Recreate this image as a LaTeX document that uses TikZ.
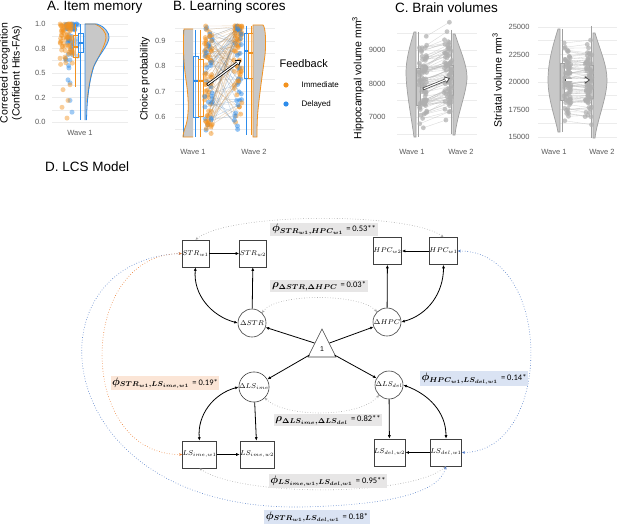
\documentclass[tikz,border=0pt]{standalone}
\usepackage{fontspec}
\setmainfont{Liberation Sans}
\newfontfamily\calibfont{Carlito}
\usetikzlibrary{arrows.meta}
\definecolor{ora}{RGB}{243,146,30}
\definecolor{blu}{RGB}{45,140,235}
\definecolor{gridc}{RGB}{236,236,236}
\definecolor{tickc}{RGB}{90,90,90}
\definecolor{vio}{RGB}{200,200,200}
\definecolor{viol}{RGB}{160,160,160}
\definecolor{dotg}{RGB}{175,175,175}
\definecolor{peach}{RGB}{251,229,214}
\definecolor{lblue}{RGB}{218,227,243}
\definecolor{lgray}{RGB}{231,230,230}
\definecolor{dora}{RGB}{237,125,49}
\definecolor{dblu}{RGB}{68,114,196}
\definecolor{dgray}{RGB}{165,165,165}
\tikzset{
 sq/.style={draw=black!75, line width=0.6pt, fill=white, minimum width=27pt, minimum height=27pt, inner sep=0pt, font=\fontsize{7.5}{8}\selectfont},
 lat/.style={circle, draw=black!75, line width=0.6pt, fill=white, minimum size=28pt, inner sep=0pt, font=\fontsize{7}{8}\selectfont},
 par/.style={-{Latex[length=3.5pt,width=3pt]}, line width=0.8pt, black},
 cov/.style={{Latex[length=3.5pt,width=3pt]}-{Latex[length=3.5pt,width=3pt]}, line width=0.8pt, black},
 dcov/.style={dotted, line width=0.6pt, {Stealth[length=3pt,width=2.6pt]}-{Stealth[length=3pt,width=2.6pt]}},
 estlab/.style={inner sep=1.6pt, font=\fontsize{10.5}{12}\selectfont\mathversion{bold}},
 tickl/.style={font=\fontsize{7.5}{8}\selectfont, text=tickc},
 ttl/.style={font=\fontsize{13.5}{15}\selectfont, anchor=west, inner sep=0pt},
 ylab/.style={font=\fontsize{10.5}{12}\selectfont, rotate=90, align=center, inner sep=0pt},
 gridl/.style={gridc, line width=0.5pt},
 wave/.style={font=\fontsize{7.5}{8}\selectfont, text=tickc},
}
\begin{document}
\begin{tikzpicture}[x=1pt,y=-1pt]
\fill[white] (0,0) rectangle (617,524);
\useasboundingbox (0,0) rectangle (617,524);

% ================= Panel A =================
\node[ttl] (titA) at (47,7.5) {A. Item memory};
\foreach \yy in {24,36.25,48.5,60.75,73,85.25,97.5,109.75,122}{\draw[gridl] (52,\yy) -- (128,\yy);}
\node[tickl, anchor=east] (a1) at (49,24) {1.0};
\node[tickl, anchor=east] (a2) at (49,48.5) {0.8};
\node[tickl, anchor=east] (a3) at (49,73) {0.5};
\node[tickl, anchor=east] (a4) at (49,97.5) {0.2};
\node[tickl, anchor=east] (a5) at (49,122) {0.0};
\node[ylab] (ylA) at (11,73) {Corrected recognition\\(Confident Hits-FAs)};
\node[wave] (wA) at (80,133) {Wave 1};
% dots
\pgfmathsetseed{11}
\foreach \i in {1,...,55}{
  \pgfmathsetmacro{\r}{rnd}
  \pgfmathsetmacro{\v}{1-0.48*\r*\r}
  \pgfmathsetmacro{\xx}{65+14*rnd}
  \fill[blu, opacity=0.45] (\xx,{122-98*\v}) circle (2.5pt);
}
\foreach \xx/\v in {68/0.43,70/0.40,70/0.22,72/0.10}{\fill[blu, opacity=0.45] (\xx,{122-98*\v}) circle (2.5pt);}
\foreach \i in {1,...,70}{
  \pgfmathsetmacro{\r}{rnd}
  \pgfmathsetmacro{\v}{1-0.42*\r*\r}
  \pgfmathsetmacro{\xx}{60+13*rnd}
  \fill[ora, opacity=0.45] (\xx,{122-98*\v}) circle (2.5pt);
}
\foreach \xx/\v in {63/0.33,68/0.22,62/0.15,67/0.04,70/0.38}{\fill[ora, opacity=0.45] (\xx,{122-98*\v}) circle (2.5pt);}
% violin
\fill[vio] (85,24) -- (97,24) .. controls (104,26) and (110,33) .. (109,38) .. controls (108,46) and (98,56) .. (94,66) .. controls (90,78) and (87,95) .. (86.5,120) -- (85,120) -- cycle;
\draw[ora, line width=0.8pt] (85,24) -- (95,24) .. controls (101,26) and (107,33) .. (106,38) .. controls (105,46) and (98,58) .. (93,68) .. controls (90,78) and (88,92) .. (87,102);
\draw[blu, line width=0.8pt] (85,120) -- (85,24) -- (97,24) .. controls (104,26) and (110,33) .. (109,38) .. controls (108,46) and (98,56) .. (94,66) .. controls (90,78) and (87,95) .. (86.5,120);
% boxes
\draw[ora, line width=0.8pt] (75.5,24) -- (75.5,87);
\draw[ora, line width=0.8pt, fill=white, fill opacity=0.3] (73,35) rectangle (78,57);
\draw[ora, line width=1.2pt] (73,47) -- (78,47);
\draw[blu, line width=0.8pt] (80.5,24) -- (80.5,120);
\draw[blu, line width=0.8pt, fill=white, fill opacity=0.3] (78,33) rectangle (83,52);
\draw[blu, line width=1.2pt] (78,43) -- (83,43);

% ================= Panel B =================
\node[ttl] (titB) at (173,7.5) {B. Learning scores};
\foreach \yy in {28.3,41,53.7,66.3,79,91.7,104.3,117,129.7}{\draw[gridl] (175,\yy) -- (275,\yy);}
\node[tickl, anchor=east] (b1) at (169,41) {0.9};
\node[tickl, anchor=east] (b2) at (169,66.3) {0.8};
\node[tickl, anchor=east] (b3) at (169,91.7) {0.7};
\node[tickl, anchor=east] (b4) at (169,117) {0.6};
\node[ylab] (ylB) at (145,79) {Choice probability};
\node[wave] (wB1) at (193,152) {Wave 1};
\node[wave] (wB2) at (254,152) {Wave 2};
% left violin
\fill[vio] (193,29) -- (184,29) .. controls (183,40) and (183,60) .. (186,80) .. controls (189,100) and (189,115) .. (186,125) .. controls (184,130) and (183,135) .. (183,137) -- (193,137) -- cycle;
\draw[blu, line width=0.8pt] (183,30) -- (183,137);
\draw[ora, line width=0.8pt] (193,137) -- (183,137) .. controls (183,135) and (184,130) .. (186,125) .. controls (189,115) and (189,100) .. (186,80) .. controls (183,60) and (183,40) .. (184,29) -- (193,29);
\draw[blu, line width=0.8pt] (195.5,30) -- (195.5,137);
\draw[ora, line width=0.8pt] (200.5,30) -- (200.5,137);
\draw[blu, line width=0.8pt, fill=white, fill opacity=0.3] (193,56) rectangle (198,117);
\draw[blu, line width=1.2pt] (193,81) -- (198,81);
\draw[ora, line width=0.8pt, fill=white, fill opacity=0.3] (198,59) rectangle (203,116);
\draw[ora, line width=1.2pt] (198,81) -- (203,81);
% paired dots
\pgfmathsetseed{7}
\foreach \i in {1,...,95}{
  \pgfmathsetmacro{\va}{0.535+0.425*rnd}
  \pgfmathsetmacro{\r}{rnd}
  \pgfmathsetmacro{\vb}{0.96-0.42*\r*\r}
  \pgfmathsetmacro{\xa}{204.5+8*rnd}
  \pgfmathsetmacro{\xb}{234+8*rnd}
  \pgfmathsetmacro{\ya}{41+(0.9-\va)*253.3}
  \pgfmathsetmacro{\yb}{41+(0.9-\vb)*253.3}
  \pgfmathsetmacro{\grp}{rnd<0.6 ? 1 : 0}
  \ifdim\grp pt>0.5pt \colorlet{cc}{ora}\else\colorlet{cc}{blu}\fi
  \draw[cc!55!gray, opacity=0.35, line width=0.4pt] (\xa,\ya) -- (\xb,\yb);
  \fill[cc, opacity=0.5] (\xa,\ya) circle (2.5pt) (\xb,\yb) circle (2.5pt);
}
% right boxes and violin
\draw[blu, line width=0.8pt] (246,26) -- (246,135);
\draw[ora, line width=0.8pt] (251,26) -- (251,135);
\draw[blu, line width=0.8pt, fill=white, fill opacity=0.3] (244,33) rectangle (248,78);
\draw[blu, line width=1.2pt] (244,51) -- (248,51);
\draw[ora, line width=0.8pt, fill=white, fill opacity=0.3] (248,33) rectangle (253,78);
\draw[ora, line width=1.2pt] (248,53) -- (253,53);
\fill[vio] (253,25) -- (263,25) .. controls (266,28) and (266,45) .. (265,55) .. controls (263,70) and (260,90) .. (258,110) .. controls (257,120) and (257,130) .. (257,137) -- (253,137) -- cycle;
\draw[ora, line width=0.8pt] (253,25) -- (263,25) .. controls (266,28) and (266,45) .. (265,55) .. controls (263,70) and (260,90) .. (258,110) .. controls (257,120) and (257,130) .. (257,137) -- (253,137) -- cycle;
\coordinate (bA1) at (207,85);
\coordinate (bA2) at (241,60);
\draw[line width=2.6pt, -{Triangle[length=5pt,width=7pt]}] (bA1) -- (bA2);
\draw[white, line width=1.1pt, shorten >=1.6pt, shorten <=0.8pt, -{Triangle[length=3pt,width=3.8pt]}] (bA1) -- (bA2);
% legend
\node[font=\fontsize{11}{12}\selectfont, anchor=west] (lgT) at (276,64) {Feedback};
\fill[ora] (286,85) circle (2.6pt);
\fill[blu] (286,104) circle (2.6pt);
\node[font=\fontsize{8}{9}\selectfont, anchor=west] (lg1) at (298,85) {Immediate};
\node[font=\fontsize{8}{9}\selectfont, anchor=west] (lg2) at (298,104) {Delayed};

% ================= Panel C =================
\node[ttl] (titC) at (395,7.5) {C. Brain volumes};
% left plot
\foreach \yy in {33.25,50,66.75,83.5,100.25,117,133.75}{\draw[gridl] (397,\yy) -- (477,\yy);}
\node[tickl, anchor=east] (c1) at (389,50) {9000};
\node[tickl, anchor=east] (c2) at (389,83.5) {8000};
\node[tickl, anchor=east] (c3) at (389,117) {7000};
\node[ylab] (ylC1) at (358,78) {Hippocampal volume mm\textsuperscript{3}};
\node[wave] (wC1) at (412,152) {Wave 1};
\node[wave] (wC2) at (461,152) {Wave 2};
\fill[vio] (416,32) -- (414,32) .. controls (410,45) and (406,60) .. (406,72) .. controls (406,90) and (411,115) .. (414,137) -- (416,137) -- cycle;
\draw[viol, line width=0.7pt] (416,32) -- (414,32) .. controls (410,45) and (406,60) .. (406,72) .. controls (406,90) and (411,115) .. (414,137) -- (416,137) -- cycle;
\fill[vio] (453,34) -- (455,34) .. controls (460,50) and (467,65) .. (467,77) .. controls (467,92) and (457,115) .. (455,135) -- (453,135) -- cycle;
\draw[viol, line width=0.7pt] (453,34) -- (455,34) .. controls (460,50) and (467,65) .. (467,77) .. controls (467,92) and (457,115) .. (455,135) -- (453,135) -- cycle;
\draw[viol, line width=0.7pt] (418,32) -- (418,137);
\draw[viol, line width=0.7pt] (451,30) -- (451,134);
\draw[viol, line width=0.7pt, fill=vio] (416,68) rectangle (420,105);
\draw[viol, line width=0.7pt, fill=vio] (449,65) rectangle (453,95);
\pgfmathsetseed{3}
\foreach \i in {1,...,80}{
  \pgfmathsetmacro{\va}{6.45+3.1*(rnd+rnd)/2}
  \pgfmathsetmacro{\vb}{\va+0.25+0.4*(rnd-0.5)}
  \pgfmathsetmacro{\xa}{419+8*rnd}
  \pgfmathsetmacro{\xb}{444+8*rnd}
  \draw[dotg, opacity=0.5, line width=0.35pt] (\xa,{50+(9-\va)*33.5}) -- (\xb,{50+(9-\vb)*33.5});
  \fill[dotg, opacity=0.7] (\xa,{50+(9-\va)*33.5}) circle (2.4pt) (\xb,{50+(9-\vb)*33.5}) circle (2.4pt);
}
\coordinate (cA1) at (423,89);
\coordinate (cA2) at (450,78);
\draw[black!70, line width=2.6pt, -{Triangle[length=5pt,width=7pt]}] (cA1) -- (cA2);
\draw[white, line width=1.1pt, shorten >=1.6pt, shorten <=0.8pt, -{Triangle[length=3pt,width=3.8pt]}] (cA1) -- (cA2);
% right plot
\foreach \yy in {27,40.75,54.5,68.25,82,95.75,109.5,123.25,137}{\draw[gridl] (538,\yy) -- (617,\yy);}
\node[tickl, anchor=east] (c4) at (533,27) {25000};
\node[tickl, anchor=east] (c5) at (533,54.5) {22500};
\node[tickl, anchor=east] (c6) at (533,82) {20000};
\node[tickl, anchor=east] (c7) at (533,109.5) {17500};
\node[tickl, anchor=east] (c8) at (533,137) {15000};
\node[ylab] (ylC2) at (497,80) {Striatal volume mm\textsuperscript{3}};
\node[wave] (wC3) at (554,152) {Wave 1};
\node[wave] (wC4) at (602,152) {Wave 2};
\fill[vio] (560,29) -- (558,29) .. controls (553,45) and (548,62) .. (548,80) .. controls (548,100) and (556,120) .. (558,132) -- (560,132) -- cycle;
\draw[viol, line width=0.7pt] (560,29) -- (558,29) .. controls (553,45) and (548,62) .. (548,80) .. controls (548,100) and (556,120) .. (558,132) -- (560,132) -- cycle;
\fill[vio] (593,33) -- (595,33) .. controls (600,50) and (607,65) .. (607,80) .. controls (607,98) and (597,120) .. (595,138) -- (593,138) -- cycle;
\draw[viol, line width=0.7pt] (593,33) -- (595,33) .. controls (600,50) and (607,65) .. (607,80) .. controls (607,98) and (597,120) .. (595,138) -- (593,138) -- cycle;
\draw[viol, line width=0.7pt] (562,29) -- (562,132);
\draw[viol, line width=0.7pt] (591,26) -- (591,138);
\draw[viol, line width=0.7pt, fill=vio] (560,63) rectangle (564,100);
\draw[viol, line width=0.7pt, fill=vio] (589,65) rectangle (593,98);
\pgfmathsetseed{5}
\foreach \i in {1,...,80}{
  \pgfmathsetmacro{\va}{15.6+9.2*(rnd+rnd)/2}
  \pgfmathsetmacro{\vb}{\va+0.8*(rnd-0.5)}
  \pgfmathsetmacro{\xa}{564+7*rnd}
  \pgfmathsetmacro{\xb}{585+7*rnd}
  \draw[dotg, opacity=0.5, line width=0.35pt] (\xa,{27+(25-\va)*11}) -- (\xb,{27+(25-\vb)*11});
  \fill[dotg, opacity=0.7] (\xa,{27+(25-\va)*11}) circle (2.4pt) (\xb,{27+(25-\vb)*11}) circle (2.4pt);
}
\coordinate (cB1) at (565,80);
\coordinate (cB2) at (590,80);
\draw[black!70, line width=2.6pt, -{Triangle[length=5pt,width=7pt]}] (cB1) -- (cB2);
\draw[white, line width=1.1pt, shorten >=1.6pt, shorten <=0.8pt, -{Triangle[length=3pt,width=3.8pt]}] (cB1) -- (cB2);

% ================= Panel D =================
\node[ttl] (titD) at (45,167) {D. LCS Model};

\node[sq] (str1) at (195.5,253.5) {$STR_{w1}$};
\node[sq] (str2) at (253,253.5) {$STR_{w2}$};
\node[sq] (hpc2) at (387.5,251) {$HPC_{w2}$};
\node[sq] (hpc1) at (443.5,251) {$HPC_{w1}$};
\node[lat] (dstr) at (252,323) {$\Delta STR$};
\node[lat] (dhpc) at (387,322) {$\Delta HPC$};
\node[lat] (dlsi) at (254,387) {$\Delta LS_{ime}$};
\node[lat] (dlsd) at (389,385) {$\Delta LS_{del}$};
\node[sq, minimum width=33pt] (lsi1) at (199.5,454.5) {$LS_{ime,w1}$};
\node[sq, minimum width=32pt] (lsi2) at (257,454.5) {$LS_{ime,w2}$};
\node[sq, minimum width=28pt] (lsd2) at (389.5,452.5) {$LS_{del,w2}$};
\node[sq, minimum width=28pt] (lsd1) at (446,452.5) {$LS_{del,w1}$};

% triangle
\coordinate (tA) at (322,329);
\coordinate (tL) at (308,357);
\coordinate (tR) at (336,357);
\draw[line width=0.6pt, black!75, fill=white] (tA) -- (tL) -- (tR) -- cycle;
\node[font=\fontsize{7}{8}\selectfont] (one) at (322,349) {1};
\coordinate (t1) at (314.5,343);
\coordinate (t2) at (329.5,343);
\coordinate (t3) at (309.5,355);
\coordinate (t4) at (334.5,355);

% dotted covariances
\draw[dcov, dgray] (str1.north) .. controls (230,212) and (410,212) .. (hpc1.north);
\draw[dcov, dgray] (dstr.north east) .. controls (275,293) and (360,293) .. (dhpc.north west);
\draw[dcov, dgray] (dlsi.south east) .. controls (285,418) and (360,418) .. (dlsd.south west);
\draw[dcov, dgray] (lsi1.south) .. controls (240,497) and (410,497) .. (lsd1.south);
\draw[dcov, dblu] (str1.west) .. controls (25,260) and (45,510) .. (300,507) .. controls (400,505) and (440,490) .. (lsd1.south);
\draw[dcov, dora] (str1.west) .. controls (76,255) and (76,455) .. (lsi1.west);
\draw[dcov, dblu] (hpc1.east) .. controls (554,251) and (554,452) .. (lsd1.east);

% paths
\draw[par] (str1) -- (str2);
\draw[par] (hpc1) -- (hpc2);
\draw[par] (dstr) -- (str2);
\draw[par] (dhpc) -- (hpc2);
\draw[par] (dlsi) -- (lsi2);
\draw[par] (dlsd) -- (lsd2);
\draw[par] (lsi1) -- (lsi2);
\draw[par] (lsd1) -- (lsd2);
\draw[cov] (str1.south) to[out=-95,in=165] (dstr.west);
\draw[cov] (hpc1.south) to[out=-90,in=15] (dhpc.east);
\draw[cov] (lsi1.north) to[out=95,in=195] (dlsi.west);
\draw[cov] (lsd1.north) to[out=90,in=-20] (dlsd.east);
\draw[par] (t1) -- (dstr);
\draw[par] (t2) -- (dhpc);
\draw[par] (t3) -- (dlsi);
\draw[par] (t4) -- (dlsd);

% estimates
\node[estlab, fill=lgray] (e1) at (324,229.5) {$\phi_{STR_{w1},HPC_{w1}}$ {\calibfont\fontsize{8.5}{10}\selectfont = 0.53**}};
\node[estlab, fill=lgray] (e2) at (319,286) {$\rho_{\Delta STR,\Delta HPC}$ {\calibfont\fontsize{8.5}{10}\selectfont = 0.03*}};
\node[estlab, fill=peach] (e3) at (165,383) {$\phi_{STR_{w1},LS_{ime,w1}}$ {\calibfont\fontsize{8.5}{10}\selectfont = 0.19*}};
\node[estlab, fill=lblue] (e4) at (474,378.5) {$\phi_{HPC_{w1},LS_{del,w1}}$ {\calibfont\fontsize{8.5}{10}\selectfont = 0.14*}};
\node[estlab, fill=lgray] (e5) at (328,420) {$\rho_{\Delta LS_{ime},\Delta LS_{del}}$ {\calibfont\fontsize{8.5}{10}\selectfont = 0.82**}};
\node[estlab, fill=lgray] (e6) at (328,481) {$\phi_{LS_{ime,w1},LS_{del,w1}}$ {\calibfont\fontsize{8.5}{10}\selectfont = 0.95**}};
\node[estlab, fill=lblue] (e7) at (317,517) {$\phi_{STR_{w1},LS_{del,w1}}$ {\calibfont\fontsize{8.5}{10}\selectfont = 0.18*}};
\end{tikzpicture}
\end{document}
